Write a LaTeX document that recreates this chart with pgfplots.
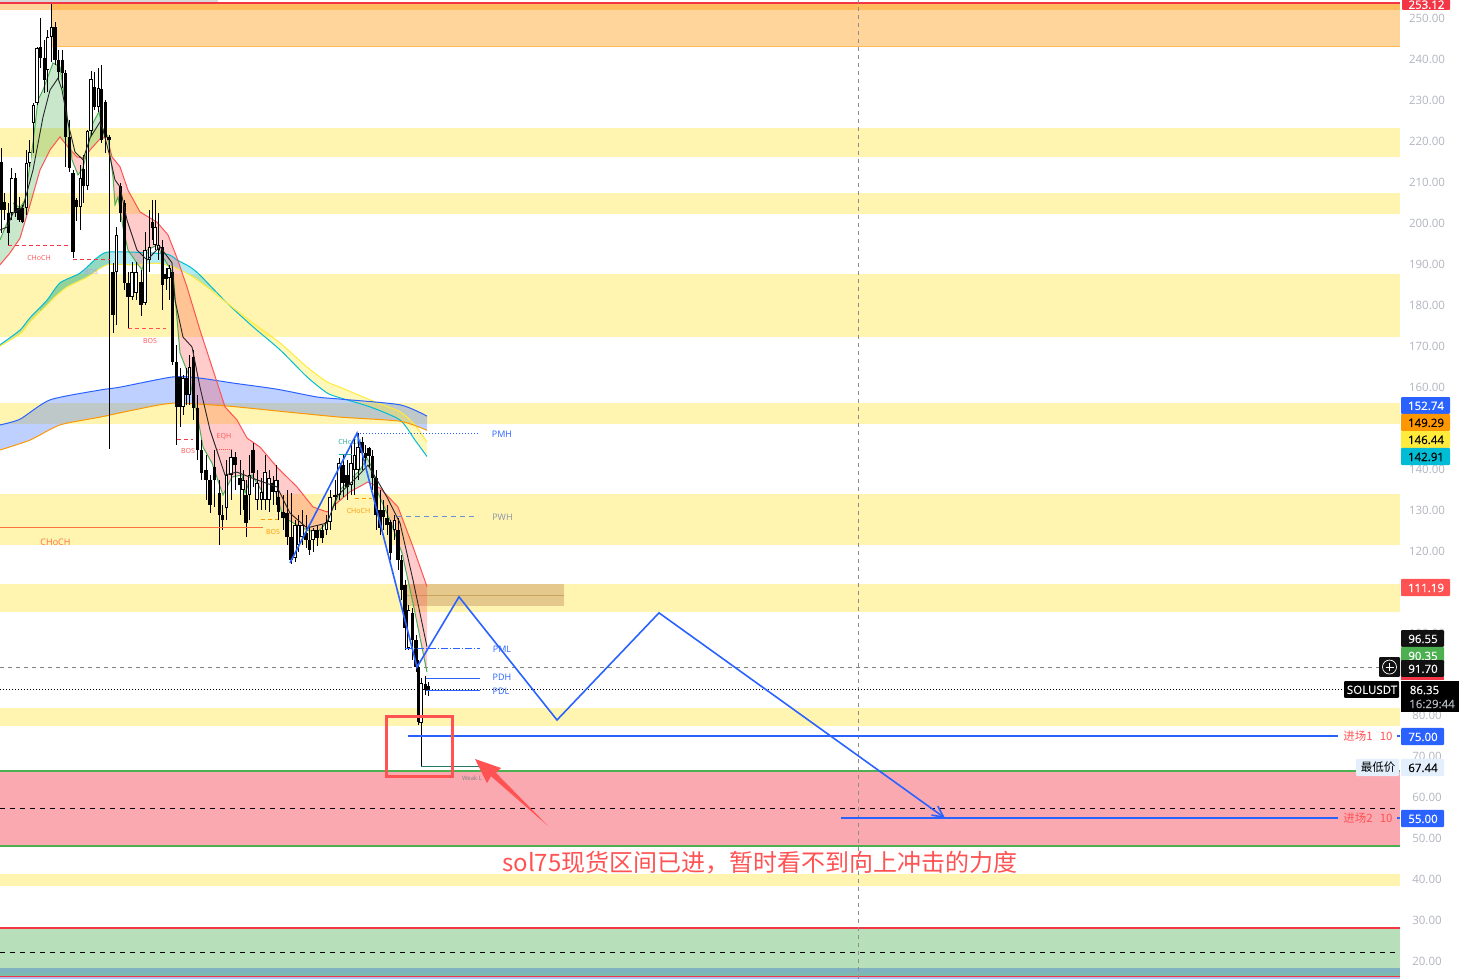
\documentclass[border=0pt]{standalone}
\usepackage{pgfplots}
\usepackage{pgfplotstable}
\usepackage{fontspec}
\pgfplotsset{compat=1.18}
\usepgfplotslibrary{fillbetween}
\usetikzlibrary{arrows.meta}
\setmainfont{Open Sans}
\newfontfamily\semi{Open Sans}[FakeBold=0.4]
\newfontfamily\cjk{Noto Sans CJK SC}
\definecolor{tvred}{HTML}{FF5252}
\definecolor{tvredd}{HTML}{F23645}
\definecolor{tvblue}{HTML}{2962FF}
\definecolor{tvgreen}{HTML}{4CAF50}
\definecolor{tvorange}{HTML}{FF9800}
\definecolor{tvyellow}{HTML}{FFEB3B}
\definecolor{tvcyan}{HTML}{00BCD4}
\definecolor{band}{HTML}{FFF5B1}
\definecolor{topo}{HTML}{FFD59B}
\definecolor{topd}{HTML}{FFBB5C}
\definecolor{pinkz}{HTML}{FBA9B1}
\definecolor{greenz}{HTML}{B7DFBA}
\definecolor{brownz}{HTML}{E5C98C}
\definecolor{brownl}{HTML}{C9A25C}
\definecolor{tick}{HTML}{B2B5BE}
\definecolor{pale}{HTML}{E3EFFD}
\definecolor{boxblack}{HTML}{111111}
\definecolor{stripa}{HTML}{7FB3C0}
\definecolor{stripb}{HTML}{7DBBAA}
\definecolor{stripc}{HTML}{AFC0EE}
\definecolor{deeporange}{HTML}{FF7043}
\definecolor{teal}{HTML}{26A69A}
\definecolor{teald}{HTML}{26786A}
\definecolor{bosp}{HTML}{B39DDB}
\definecolor{pwhl}{HTML}{6E8FD0}
\definecolor{pwht}{HTML}{8C93A8}
% candles: x, high, body top, body bottom, low
\pgfplotstableread{
x h t b l
1 218.1 214.7 203.0 197.4
4.6 207.1 204.9 203.0 200.5
8.2 204.7 202.2 197.4 194.4
15.4 212.0 210.8 202.2 201.3
19 206.1 203.5 200.5 200.0
22.6 204.2 203.5 200.0 199.8
40.6 249.7 242.7 240.0 237.6
44.2 244.4 240.0 234.6 231.5
55 248.8 247.6 239.5 238.3
58.6 242.0 239.5 236.6 234.6
62.2 242.0 239.5 236.4 232.7
65.8 237.1 236.4 220.8 213.4
69.4 224.9 220.8 213.2 212.2
73 212.7 212.0 192.7 191.3
76.6 205.9 205.4 203.7 200.3
83.8 216.4 213.0 208.8 204.7
94.6 236.6 232.9 228.1 227.3
101.8 238.3 232.5 220.0 219.3
105.4 229.8 229.3 220.8 216.9
109 221.2 220.8 220.0 144.7
113 190.0 187.9 177.4 173.0
120.5 209.5 208.8 202.2 200.0
124.5 205.4 204.7 185.2 183.5
128 187.9 185.2 181.8 174.2
141 188.4 185.4 179.8 177.1
152.7 205.4 200.0 198.6 195.7
162.7 195.7 194.0 184.7 178.6
166 188.8 187.4 186.2 183.5
172.7 188.4 187.9 165.9 165.2
176.3 170.1 165.9 155.0 145.7
180 164.5 162.3 155.0 150.1
186 164.5 162.0 157.9 155.5
193.3 168.9 167.2 154.7 151.8
197.3 157.9 154.7 144.5 142.1
201.7 146.9 144.5 138.9 137.2
206 143.3 139.6 137.2 132.3
210 138.4 137.2 131.1 129.1
214.3 144.5 140.3 137.2 130.6
219.3 137.2 134.0 128.7 121.3
222.7 131.1 128.7 127.4 125.0
235 144.0 142.8 140.8 134.8
240 142.1 137.7 136.0 128.7
246 137.2 133.5 126.7 123.3
253 146.2 144.5 138.9 135.5
273 138.1 136.4 134.3 131.1
278.5 137.2 133.0 129.4 127.4
283 133.5 129.4 127.9 125.0
287 134.8 129.1 123.3 121.3
291 134.0 123.3 117.7 116.7
306 128.7 124.3 122.6 120.6
309.5 126.2 122.6 120.1 118.9
317 126.2 125.0 123.1 121.1
322 126.2 125.0 123.1 121.8
343 143.3 140.8 136.5 133.0
347 142.1 138.4 135.5 132.3
362 147.7 146.4 143.8 139.6
365.5 145.7 143.8 142.5 140.1
369 145.2 145.0 143.0 140.1
372.5 144.5 143.0 137.7 134.8
376 139.6 137.7 128.7 125.0
380 134.8 129.9 125.5 123.8
383.5 132.3 129.9 128.2 125.0
387 131.1 127.9 126.2 123.8
390.8 127.4 126.9 119.4 117.7
398 127.9 125.0 117.7 115.3
401.5 118.9 117.7 110.4 107.9
405 112.8 111.6 101.1 95.8
412.5 106.0 104.8 98.2 93.3
416 99.4 98.2 91.6 90.4
418.5 93.3 91.6 78.2 77.5
425.5 89.4 87.5 86.0 84.8
428.5 87.9 87.0 86.0 84.6
}\dncandles
\pgfplotstableread{
x h t b l
11.8 213.2 210.8 202.2 200.5
26.2 217.6 214.4 203.5 201.8
29.8 220.0 217.1 214.4 213.4
33.4 229.0 228.6 224.2 216.9
37 242.7 242.4 229.0 228.6
47.8 246.8 245.1 237.1 231.7
51.4 253.12 247.6 245.1 239.0
80.2 213.9 210.8 203.7 198.1
87.4 222.5 222.2 208.8 207.8
91 236.8 234.9 222.2 221.2
98.2 237.6 232.7 228.1 226.8
116.5 198.8 196.9 187.9 175.0
132 190.3 187.9 181.8 181.0
136 190.3 187.9 182.7 181.0
145 197.6 193.2 180.3 179.8
149.5 203.0 193.9 190.8 187.9
155 205.4 198.8 194.4 193.2
158.5 202.2 194.4 193.2 190.8
169 189.6 188.8 186.4 181.0
183 162.8 162.0 155.0 153.0
189.5 167.6 164.7 157.9 155.5
226.7 142.1 138.4 130.4 127.4
231 144.5 142.8 138.4 132.3
243 139.6 137.2 134.7 129.9
249.5 143.3 138.4 133.5 127.4
257 139.6 136.4 132.3 129.9
261.5 137.7 134.3 132.3 129.9
265 143.3 139.1 132.3 129.9
269 139.6 137.7 132.3 129.4
276 140.8 137.2 134.3 131.1
295 127.4 126.2 118.2 117.2
298.5 128.7 126.2 121.3 119.6
302 129.9 126.2 123.3 121.3
313 125.5 125.0 122.6 119.6
326.5 128.7 127.0 125.0 123.8
330 134.8 133.0 127.0 125.0
335 137.2 133.5 133.0 129.9
339 142.5 141.3 133.5 132.3
351 145.7 141.3 136.0 133.5
354.5 147.4 143.3 139.6 133.5
358 148.6 145.2 139.6 137.2
394.5 128.7 127.4 125.0 122.6
408.8 106.7 105.5 96.2 95.8
421 88.9 87.7 78.0 67.44
}\upcandles
% moving averages
\pgfplotstableread{
x y
0 189.6
10 192.5
20 196.1
30 204.2
40 212.7
50 217.6
60 220.8
68 218.3
77 215.9
85 215.6
90 217.6
100 220.3
107 220.8
112 215.9
120 213.5
128 207.8
140 202.5
157 200.0
168 196.9
177 191.3
187 184.2
200 173.7
213 164.0
225 155.0
237 151.8
247 147.4
260 145.2
277 140.3
297 135.5
313 130.6
327 129.4
337 131.6
350 134.3
368 136.7
380 135.2
398 130.6
413 120.9
427 111.19
}\redma
\pgfplotstableread{
x y
0 195.7
7 199.8
13 204.7
20 203.5
25 205.4
33 219.3
38 229.8
43 232.2
53 238.8
60 237.8
67 226.6
72 215.2
78 211.5
83 213.2
88 218.3
93 224.2
99 226.9
102 223.2
108 220.8
113 211.0
115 204.2
118 206.1
123 198.8
128 193.2
137 190.0
142 188.4
147 193.2
157 194.4
163 191.5
173 187.6
180 168.1
188 163.2
197 153.5
203 145.2
212 141.3
223 133.5
232 137.9
242 138.4
245 134.0
252 138.4
263 134.0
273 136.5
283 128.2
297 126.2
307 125.0
317 124.3
327 126.9
333 130.6
338 134.3
360 139.6
367 142.5
372 140.3
378 134.0
390 127.4
402 119.4
413 107.2
427 90.35
}\greenma
\pgfplotstableread{
x y
0 198.1
7 198.8
13 202.2
23 203.7
33 212.7
43 225.6
50 232.2
58 235.1
62 232.2
68 224.2
75 217.1
83 215.2
90 220.5
100 224.4
103 222.5
110 215.9
115 210.3
120 208.6
127 200.5
137 193.2
147 190.8
160 194.0
172 190.1
175 181.0
183 172.0
192 169.6
200 159.8
210 149.4
225 138.4
237 139.1
257 137.2
277 135.5
290 129.1
307 125.5
327 126.7
338 133.5
357 137.9
368 140.8
377 137.2
387 133.0
400 126.7
413 112.8
427 96.55
}\blackma
\pgfplotstableread{
x y
0 170.1
20 173.7
30 176.7
47 181.0
60 185.2
80 187.6
97 191.3
107 192.7
133 192.7
167 192.2
177 190.8
190 189.1
200 187.1
227 180.3
253 174.5
280 168.9
307 162.3
327 158.4
340 157.2
370 155.0
400 151.8
415 146.9
427 142.91
}\cyanma
\pgfplotstableread{
x y
0 169.8
20 172.8
30 175.7
47 179.8
55 181.8
67 184.2
87 186.6
107 189.6
133 189.6
157 190.0
173 189.1
190 187.1
207 184.2
227 180.3
253 175.4
280 170.6
307 164.7
327 161.1
340 159.8
370 156.7
400 153.8
415 150.6
427 146.44
}\yellowma
\pgfplotstableread{
x y
0 150.6
20 152.0
50 156.7
100 159.1
120 159.8
173 162.3
200 162.0
233 160.8
277 159.3
317 157.4
340 156.9
400 155.5
427 152.74
}\bluema
\pgfplotstableread{
x y
0 144.5
30 146.9
60 150.6
100 152.5
133 154.2
173 155.9
227 155.2
277 154.0
340 152.5
400 151.5
427 149.29
}\orangema
\newcommand\zone[5]{\addplot[fill=#5,draw=none,forget plot] coordinates {(#1,#3)(#2,#3)(#2,#4)(#1,#4)} -- cycle;}
\newcommand\seg[5]{\addplot[#5,forget plot] coordinates {(#1,#3)(#2,#4)};}
\newcommand\pbox[7]{\fill[#5,rounded corners=1pt] (axis cs:#1,#3) rectangle (axis cs:#2,#4);
  \node[text=#6,inner sep=0pt,font=\semi\fontsize{11.5}{12}\selectfont] at (axis cs:{(#1+#2)/2+0.5},{(#3+#4)/2-0.1}) {#7};}
\newcommand\lbl[4]{\node[text=#3,inner sep=0pt,font=\fontsize{#4}{#4}\selectfont] at (axis cs:#1,#2)}
\begin{document}
\begin{tikzpicture}
\begin{axis}[
  set layers=standard,
  scale only axis, width=1459pt, height=979pt,
  xmin=0, xmax=1459, ymin=15.59, ymax=254.14,
  clip=false,
  axis x line=none,
  axis y line*=right,
  y axis line style={draw=none},
  major tick length=0pt, tick style={draw=none},
  ytick={20,30,...,250},
  yticklabel style={anchor=center, xshift=-32pt, yshift=-1pt, text=tick, font=\fontsize{11.5}{12}\selectfont,
    /pgf/number format/.cd, fixed, fixed zerofill, precision=2, assume math mode=true},
  fill between/on layer=main,
]
% horizontal zones
\zone{0}{1400}{222.95}{215.89}{band}
\zone{0}{1400}{207.11}{202.00}{band}
\zone{0}{1400}{187.38}{172.03}{band}
\zone{0}{1400}{155.94}{150.83}{band}
\zone{0}{1400}{133.77}{121.35}{band}
\zone{0}{1400}{111.84}{105.02}{band}
\zone{0}{1400}{81.63}{77.24}{band}
\zone{0}{1400}{41.18}{38.26}{band}
\zone{52}{1400}{251.70}{242.69}{topo}
\zone{0}{52}{253.2}{251.70}{topo}
\zone{52}{1400}{253.2}{251.70}{topd}
\zone{0}{218}{254.14}{253.6}{black!15}
\seg{52}{1400}{242.69}{242.69}{topd,line width=1pt}
\seg{0}{1400}{253.4}{253.4}{tvredd,line width=1.6pt}
\zone{0}{1400}{66.28}{48.00}{pinkz}
\seg{0}{1400}{66.28}{66.28}{tvgreen,line width=1.5pt}
\seg{0}{1400}{48.00}{48.00}{tvgreen,line width=1.5pt}
\zone{0}{1400}{28.02}{18.28}{greenz}
\zone{0}{1400}{18.28}{17.0}{stripa}
\zone{0}{1400}{17.0}{16.4}{stripb}
\zone{0}{1400}{16.0}{15.59}{stripc}
\seg{0}{1400}{16.2}{16.2}{tvredd,line width=1.2pt}
\seg{0}{1400}{28.02}{28.02}{tvredd,line width=1.6pt}
\seg{0}{1395}{57.26}{57.26}{black,line width=.8pt,dash pattern=on 5pt off 5pt}
\seg{0}{1395}{22.17}{22.17}{black,line width=.8pt,dash pattern=on 5pt off 5pt}
\seg{858}{858}{15.59}{254.14}{black!45,line width=.8pt,dash pattern=on 4pt off 4pt}
\seg{0}{1380}{91.62}{91.62}{black!50,line width=.8pt,dash pattern=on 4pt off 4pt}
\seg{0}{1345}{86.22}{86.22}{black,line width=.8pt,dash pattern=on 1pt off 2pt}
% brown box
\zone{405}{564}{111.84}{106.48}{brownz}
\seg{405}{564}{109.16}{109.16}{brownl,line width=.8pt}
% named averages
\addplot[draw=none,name path=Rr,forget plot] table[x=x,y=y]{\redma};
\addplot[draw=none,name path=Gg,forget plot] table[x=x,y=y]{\greenma};
\addplot[draw=none,smooth,tension=.4,name path=Cc,forget plot] table[x=x,y=y]{\cyanma};
\addplot[draw=none,smooth,tension=.4,name path=Yy,forget plot] table[x=x,y=y]{\yellowma};
\addplot[draw=none,smooth,tension=.4,name path=Bb,forget plot] table[x=x,y=y]{\bluema};
\addplot[draw=none,smooth,tension=.4,name path=Oo,forget plot] table[x=x,y=y]{\orangema};
% ribbons
\addplot[tvblue,opacity=.3,forget plot] fill between[of=Bb and Oo];
\addplot[tvcyan,opacity=.3,forget plot] fill between[of=Cc and Yy, soft clip={domain=40:215}];
\addplot[tvgreen,opacity=.3,forget plot] fill between[of=Cc and Yy, soft clip={domain=0:110}];
\addplot[tvyellow,opacity=.35,forget plot] fill between[of=Cc and Yy, soft clip={domain=225:427}];
\addplot[tvgreen,opacity=.3,forget plot] fill between[of=Rr and Gg, soft clip={domain=0:70}];
\addplot[tvred,opacity=.3,forget plot] fill between[of=Rr and Gg, soft clip={domain=70:88}];
\addplot[tvgreen,opacity=.3,forget plot] fill between[of=Rr and Gg, soft clip={domain=88:108}];
\addplot[tvred,opacity=.3,forget plot] fill between[of=Rr and Gg, soft clip={domain=108:331}];
\addplot[tvgreen,opacity=.3,forget plot] fill between[of=Rr and Gg, soft clip={domain=331:376}];
\addplot[tvred,opacity=.3,forget plot] fill between[of=Rr and Gg, soft clip={domain=376:427}];
% visible averages
\addplot[tvcyan,smooth,tension=.4,line width=1pt,forget plot] table[x=x,y=y]{\cyanma};
\addplot[tvyellow,smooth,tension=.4,line width=1pt,forget plot] table[x=x,y=y]{\yellowma};
\addplot[tvblue,smooth,tension=.4,line width=1pt,forget plot] table[x=x,y=y]{\bluema};
\addplot[tvorange,smooth,tension=.4,line width=1pt,forget plot] table[x=x,y=y]{\orangema};
\addplot[tvred,line width=1pt,forget plot] table[x=x,y=y]{\redma};
\addplot[tvgreen,line width=1pt,forget plot] table[x=x,y=y]{\greenma};
\lbl{350}{146.4}{teal}{7} {CHoCH};
% candles
\addplot[draw=none,forget plot,error bars/.cd,y dir=both,y explicit,error mark=none,error bar style={draw=black,line width=.9pt}]
  table[x=x,y expr={(\thisrow{h}+\thisrow{l})/2},y error expr={(\thisrow{h}-\thisrow{l})/2}]{\dncandles};
\addplot[draw=none,forget plot,error bars/.cd,y dir=both,y explicit,error mark=none,error bar style={draw=black,line width=.9pt}]
  table[x=x,y expr={(\thisrow{h}+\thisrow{l})/2},y error expr={(\thisrow{h}-\thisrow{l})/2}]{\upcandles};
\addplot[draw=none,forget plot,error bars/.cd,y dir=both,y explicit,error mark=none,error bar style={draw=black,line width=3.2pt}]
  table[x=x,y expr={(\thisrow{t}+\thisrow{b})/2},y error expr={(\thisrow{t}-\thisrow{b})/2}]{\dncandles};
\addplot[draw=none,forget plot,error bars/.cd,y dir=both,y explicit,error mark=none,error bar style={draw=black,line width=3.2pt}]
  table[x=x,y expr={(\thisrow{t}+\thisrow{b})/2},y error expr={(\thisrow{t}-\thisrow{b})/2}]{\upcandles};
\addplot[draw=none,forget plot,error bars/.cd,y dir=both,y explicit,error mark=none,error bar style={draw=white,line width=1.4pt}]
  table[x=x,y expr={(\thisrow{t}+\thisrow{b})/2},y error expr={max(0,(\thisrow{t}-\thisrow{b})/2-0.25)}]{\upcandles};
\addplot[black!85,line width=.9pt,forget plot] table[x=x,y=y]{\blackma};
% short structure lines
\seg{8}{70}{194.3}{194.3}{tvredd,line width=.7pt,dash pattern=on 4pt off 3pt}
\seg{73}{110}{191.0}{191.0}{tvredd,line width=.7pt,dash pattern=on 4pt off 3pt}
\seg{128}{166}{174.2}{174.2}{tvred,line width=.7pt,dash pattern=on 4pt off 3pt}
\seg{177}{193}{147.2}{147.2}{tvredd,line width=.7pt,dash pattern=on 4pt off 3pt}
\seg{217}{232}{144.7}{144.7}{tvred,line width=.5pt,dash pattern=on 1pt off 1pt}
\seg{261}{278}{127.7}{127.7}{tvorange,line width=.7pt,dash pattern=on 4pt off 3pt}
\seg{0}{263}{125.7}{125.7}{deeporange,line width=1pt}
\seg{355}{372}{132.8}{132.8}{tvorange,line width=.7pt,dash pattern=on 4pt off 3pt}
\seg{339}{352}{143.5}{143.5}{teal,line width=.8pt}
\seg{357}{478}{148.6}{148.6}{tvblue,line width=.8pt,dash pattern=on 1pt off 2pt}
\seg{397}{478}{128.4}{128.4}{pwhl,line width=.8pt,dash pattern=on 5pt off 4pt}
\seg{405}{480}{96.2}{96.2}{tvblue,line width=.8pt,dash pattern=on 7pt off 2pt on 1pt off 2pt}
\seg{426}{480}{88.9}{88.9}{tvblue,line width=.9pt}
\seg{426}{480}{85.8}{85.8}{tvblue,line width=.9pt}
\seg{421}{480}{67.44}{67.44}{teald,line width=.9pt}
% zigzag and entries
\addplot[tvblue,line width=1.6pt,forget plot,-{Straight Barb[length=11pt,width=11pt]}] coordinates {(290,117.0)(357,148.6)(417,91.6)(459,108.7)(557,78.7)(659,104.8)(945,54.8)};
\seg{408}{1338}{74.85}{74.85}{tvblue,line width=1.8pt}
\seg{1397}{1400}{74.85}{74.85}{tvblue,line width=1.8pt}
\seg{841}{1338}{54.85}{54.85}{tvblue,line width=1.8pt}
\seg{1397}{1400}{54.85}{54.85}{tvblue,line width=1.8pt}
% red frame and arrow
\addplot[tvred,line width=3pt,forget plot] coordinates {(386,79.67)(452.5,79.67)(452.5,65.05)(386,65.05)} -- cycle;
\addplot[fill=tvred,draw=none,forget plot] coordinates {(475,69.2)(501,67.0)(496,65.8)(548,52.9)(491,65.0)(487,63.3)} -- cycle;
% small text
\lbl{39}{191.3}{tvred}{7} {CHoCH};
\lbl{91}{187.9}{bosp}{7} {BOS};
\lbl{150}{171.1}{tvred}{7} {BOS};
\lbl{188}{144.3}{tvred}{7} {BOS};
\lbl{224}{147.7}{tvred}{7} {EQH};
\lbl{55.5}{122.1}{deeporange}{9} {CHoCH};
\lbl{273}{124.6}{tvorange}{7} {BOS};
\lbl{358.5}{129.7}{tvorange}{7} {CHoCH};
\lbl{502}{148.4}{tvblue}{9} {PMH};
\lbl{502.5}{128.2}{pwht}{9} {PWH};
\lbl{502}{96.0}{tvblue}{9} {PML};
\lbl{502}{89.0}{tvblue}{9} {PDH};
\lbl{501}{85.6}{tvblue}{9} {PDL};
\lbl{472}{64.5}{black!50}{6} {Weak L};
\node[text=tvred,inner sep=0pt,font=\cjk\fontsize{24}{26}\selectfont] at (axis cs:760,44.0) {sol75现货区间已进，暂时看不到向上冲击的力度};
\node[text=tvred,inner sep=0pt,font=\cjk\fontsize{11.5}{12}\selectfont] at (axis cs:1368,74.8) {进场1\hspace{7pt}10};
\node[text=tvred,inner sep=0pt,font=\cjk\fontsize{11.5}{12}\selectfont] at (axis cs:1368,54.8) {进场2\hspace{7pt}10};
% price tags
\pbox{1402}{1450}{254.5}{251.7}{tvredd}{white}{253.12}
\pbox{1401}{1450}{157.4}{153.3}{tvblue}{white}{152.74}
\pbox{1401}{1450}{153.3}{149.1}{tvorange}{black}{149.29}
\pbox{1401}{1450}{149.1}{145.0}{tvyellow}{black}{146.44}
\pbox{1401}{1450}{145.0}{140.8}{tvcyan}{black}{142.91}
\pbox{1401}{1450}{113.06}{108.9}{tvred}{white}{111.19}
\pbox{1401}{1444}{100.6}{96.5}{boxblack}{white}{96.55}
\pbox{1401}{1444}{96.5}{92.3}{tvgreen}{white}{90.35}
\fill[tvredd] (axis cs:1401,89.3) rectangle (axis cs:1444,88.4);
\pbox{1401}{1444}{93.3}{89.2}{boxblack}{white}{91.70}
\fill[boxblack,rounded corners=1pt] (axis cs:1379,94.0) rectangle (axis cs:1400,89.2);
\draw[white,line width=.7pt] (axis cs:1389.5,91.6) circle[radius=7pt];
\draw[white,line width=.8pt] (axis cs:1385.5,91.6) -- (axis cs:1393.5,91.6) (axis cs:1389.5,90.6) -- (axis cs:1389.5,92.6);
\pbox{1344}{1399}{88.2}{84.1}{black}{white}{SOLUSDT}
\fill[black] (axis cs:1401,88.2) rectangle (axis cs:1459,80.6);
\node[text=white,inner sep=0pt,font=\semi\fontsize{11.5}{12}\selectfont] at (axis cs:1424.5,86.0) {86.35};
\node[text=tick,inner sep=0pt,font=\semi\fontsize{11.5}{12}\selectfont] at (axis cs:1432,82.6) {16:29:44};
\pbox{1401}{1444}{76.75}{72.6}{tvblue}{white}{75.00}
\pbox{1401}{1444}{56.8}{52.6}{tvblue}{white}{55.00}
\pbox{1401}{1444}{69.2}{65.05}{pale}{black}{67.44}
\fill[pale,rounded corners=1pt] (axis cs:1356,69.2) rectangle (axis cs:1399,65.05);
\node[text=black,inner sep=0pt,font=\cjk\fontsize{11.5}{12}\selectfont] at (axis cs:1378,67.1) {最低价};
\end{axis}
\pgfresetboundingbox
\path[use as bounding box] (0,0) rectangle (1459pt,979pt);
\end{tikzpicture}
\end{document}
